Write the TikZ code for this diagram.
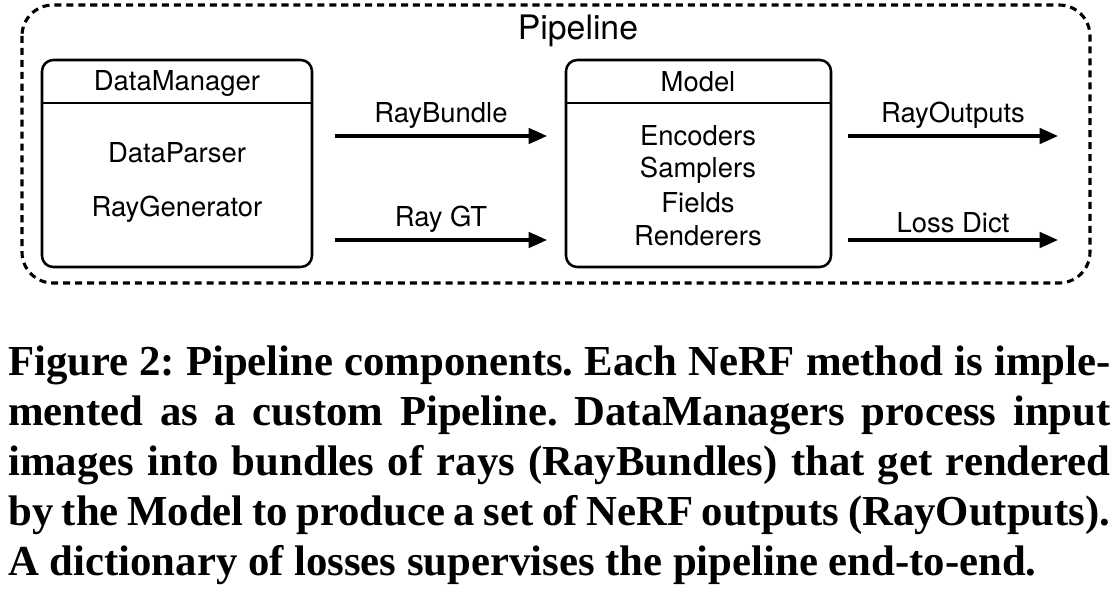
\documentclass[tikz,border=0pt]{standalone}
\usepackage{fontspec}
\setmainfont{TeX Gyre Heros}
\newfontfamily\capfont{Liberation Serif}
\usetikzlibrary{arrows.meta}
\begin{document}
\frenchspacing
\begin{tikzpicture}[x=0.025cm,y=-0.025cm,
  box/.style={draw, line width=1.8pt, rounded corners=8pt},
  lbl/.style={font=\fontsize{19.5pt}{21pt}\selectfont, inner sep=0pt},
  flow/.style={-{Triangle[length=13pt,width=11pt]}, line width=2.2pt}]

\useasboundingbox (0,0) rectangle (1114,592);

% outer pipeline frame
\draw[line width=2.2pt, dash pattern=on 5pt off 3.5pt, rounded corners=22pt] (22,5) rectangle (1090,283);
\node[lbl, font=\fontsize{24pt}{26pt}\selectfont] (pipe) at (578,31) {Pipeline};

% data manager
\draw[box] (42,60) rectangle (312,267);
\draw[line width=1.2pt] (42,103) -- (312,103);
\node[lbl] (dm) at (177,83) {DataManager};
\node[lbl] (dp) at (177,153) {DataParser};
\node[lbl] (rg) at (177,209) {RayGenerator};

% model
\draw[box] (566,60) rectangle (831,267);
\draw[line width=1.2pt] (566,103) -- (831,103);
\node[lbl] (mo) at (698,82) {Model};
\node[lbl] (en) at (698,136) {Encoders};
\node[lbl] (sa) at (698,170) {Samplers};
\node[lbl] (fi) at (698,203) {Fields};
\node[lbl] (re) at (698,236) {Renderers};

% connectors
\coordinate (a1) at (335,136); \coordinate (b1) at (547,136);
\coordinate (a2) at (335,240); \coordinate (b2) at (547,240);
\coordinate (c1) at (848,136); \coordinate (d1) at (1058,136);
\coordinate (c2) at (848,240); \coordinate (d2) at (1058,240);
\draw[flow] (a1) -- node[lbl, above=4pt] {RayBundle} (b1);
\draw[flow] (a2) -- node[lbl, above=4pt] {Ray GT} (b2);
\draw[flow] (c1) -- node[lbl, above=4pt] {RayOutputs} (d1);
\draw[flow] (c2) -- node[lbl, above=4pt] {Loss Dict} (d2);

% caption
\node[anchor=north west, inner sep=0pt, text width=27.55cm, align=justify,
  font=\capfont\bfseries\fontsize{30.4pt}{35.5pt}\selectfont] (cap) at (8,346)
  {Figure 2: Pipeline components. Each NeRF method is imple-\linebreak
   mented as a custom Pipeline. DataManagers process input\linebreak
   images into bundles of rays (RayBundles) that get rendered\linebreak
   by the Model to produce a set of NeRF outputs (RayOutputs).\linebreak
   A dictionary of losses supervises the pipeline end-to-end.};
\end{tikzpicture}
\end{document}
